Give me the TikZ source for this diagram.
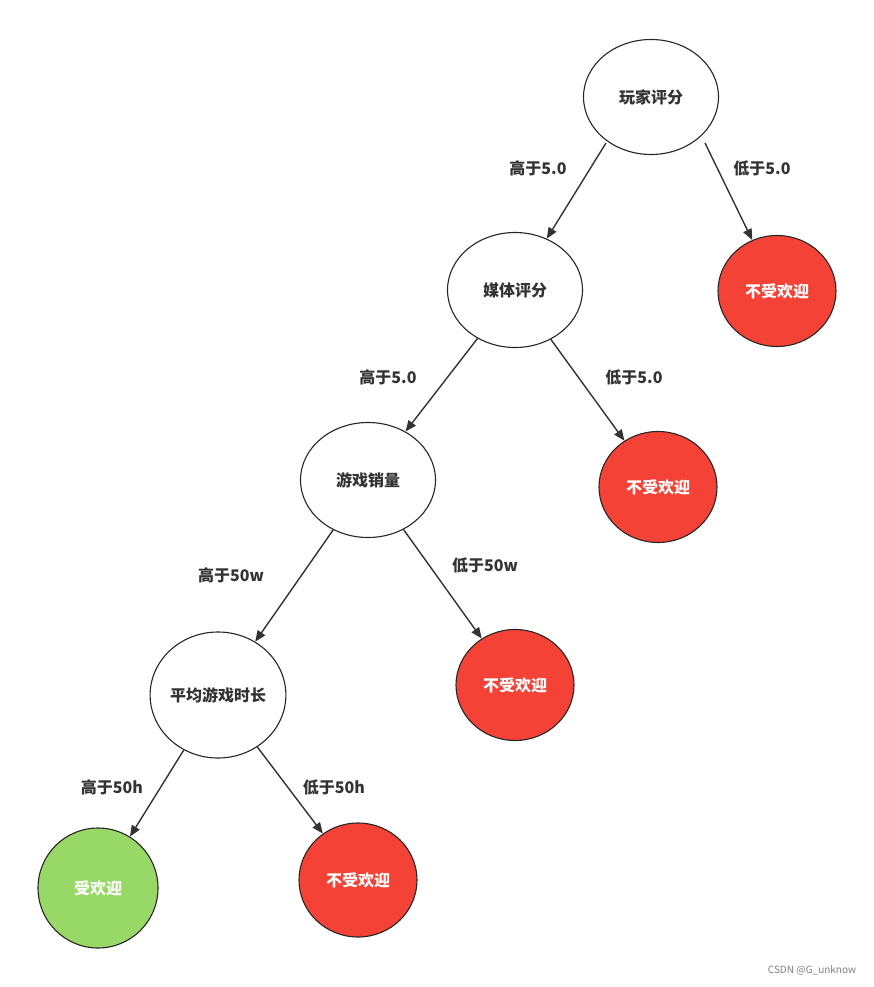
\documentclass[tikz,border=0pt]{standalone}
\usepackage{fontspec}
\setmainfont{Noto Sans CJK SC}
\usetikzlibrary{shapes.geometric,arrows.meta}
\definecolor{redc}{HTML}{F44336}
\definecolor{greenc}{HTML}{97D866}
\definecolor{edgec}{HTML}{333333}
\begin{document}
\begin{tikzpicture}[x=1pt,y=-1pt,
  nd/.style={ellipse,draw=black!85,line width=1.1pt,inner sep=0pt,font=\fontsize{16}{19}\selectfont\bfseries,text=black!80},
  bad/.style={nd,fill=redc,text=white,minimum width=118pt,minimum height=111pt},
  good/.style={nd,fill=greenc,text=white,minimum width=120pt,minimum height=120pt},
  q/.style={nd,fill=white,minimum width=135pt,minimum height=115pt},
  lb/.style={font=\fontsize{16}{19}\selectfont\bfseries,text=black!80},
  ar/.style={draw=edgec,line width=1.4pt,-{Triangle[length=11pt,width=9pt]}}]
\useasboundingbox (0,0) rectangle (874,987);
\node[q] (a) at (651,97) {玩家评分};
\node[bad] (b1) at (777,291) {不受欢迎};
\node[q] (b) at (515,290) {媒体评分};
\node[bad] (c1) at (658,487) {不受欢迎};
\node[q] (c) at (368,480) {游戏销量};
\node[bad] (d1) at (515,685) {不受欢迎};
\node[q,minimum height=126pt] (d) at (218,695) {平均游戏时长};
\node[good] (e) at (98,888) {受欢迎};
\node[bad,minimum height=114pt] (e1) at (358,880) {不受欢迎};
\coordinate (a1) at (606,143); \coordinate (a2) at (705,143);
\draw[ar] (a1) -- (b);
\draw[ar] (a2) -- (b1);
\draw[ar] (b) -- (c);
\draw[ar] (b) -- (c1);
\draw[ar] (c) -- (d);
\draw[ar] (c) -- (d1);
\draw[ar] (d) -- (e);
\draw[ar] (d) -- (e1);
\node[lb] (l1) at (538,168) {高于5.0};
\node[lb] (l2) at (762,168) {低于5.0};
\node[lb] (l3) at (388,377) {高于5.0};
\node[lb] (l4) at (634,377) {低于5.0};
\node[lb] (l5) at (231,575) {高于50w};
\node[lb] (l6) at (485,565) {低于50w};
\node[lb] (l7) at (112,787) {高于50h};
\node[lb] (l8) at (334,787) {低于50h};
\node[font=\fontsize{10}{12}\selectfont,text=black!50] (w) at (812,970) {CSDN @G\_unknow};
\end{tikzpicture}
\end{document}
